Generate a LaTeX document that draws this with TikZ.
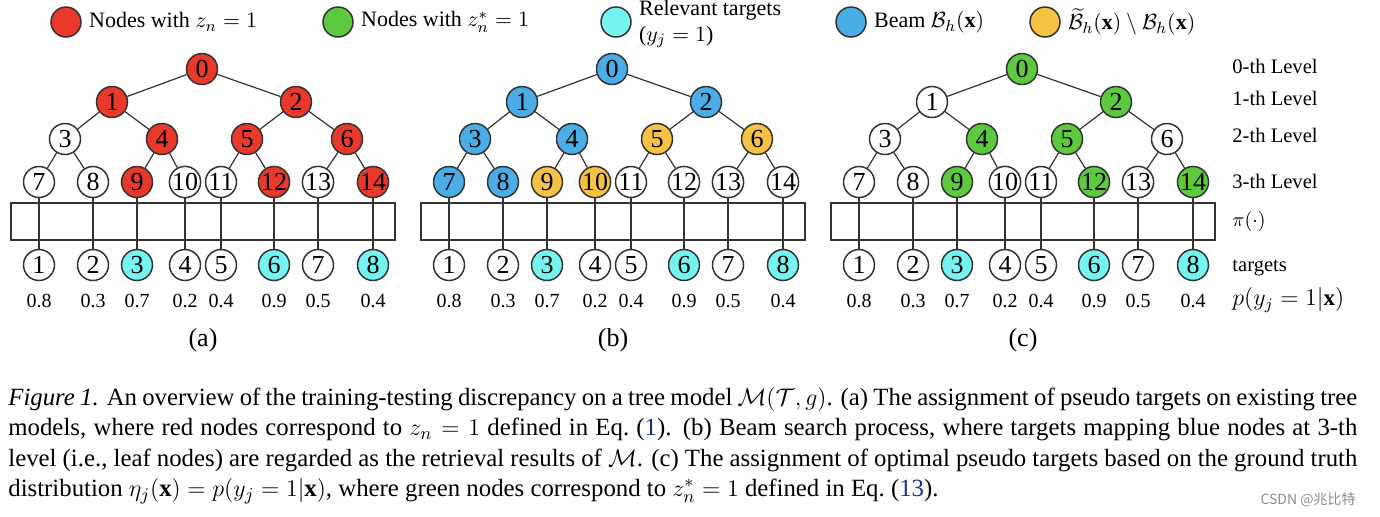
\documentclass[tikz,border=0pt]{standalone}
\usepackage{fontspec}
\setmainfont{Liberation Serif}
\newfontfamily\cjk{Noto Sans CJK SC}
\usepackage{amsmath}
\usetikzlibrary{positioning}
\definecolor{zRed}{HTML}{E8392B}
\definecolor{zGreen}{HTML}{5CC93F}
\definecolor{zCyan}{HTML}{74F3F1}
\definecolor{zBlue}{HTML}{4AADE6}
\definecolor{zGold}{HTML}{F5C243}
\definecolor{rim}{HTML}{333333}
\definecolor{eqref}{HTML}{1A2F8C}

% tree node: index/x/y (pixels of the original)
\newcommand\treenodes{0/202/69, 1/112/102, 2/296/102, 3/65/139, 4/162/139,
  5/247/139, 6/347/139, 7/39/182, 8/93/182, 9/137/182, 10/185/182,
  11/221/182, 12/274/182, 13/318/182, 14/373/182}
% target: index/x/fill/probability
\newcommand\targets{1/39/white/0.8, 2/93/white/0.3, 3/137/zCyan/0.7,
  4/185/white/0.2, 5/221/white/0.4, 6/274/zCyan/0.9, 7/318/white/0.5,
  8/373/zCyan/0.4}
\newcommand\fillsa{{"zRed","zRed","zRed","white","zRed","zRed","zRed",
  "white","white","zRed","white","white","zRed","white","zRed"}}
\newcommand\fillsb{{"zBlue","zBlue","zBlue","zBlue","zBlue","zGold","zGold",
  "zBlue","zBlue","zGold","zGold","white","white","white","white"}}
\newcommand\fillsc{{"zGreen","white","zGreen","white","zGreen","zGreen","white",
  "white","white","zGreen","white","white","zGreen","white","zGreen"}}

\begin{document}
\begin{tikzpicture}[x=0.5pt, y=-0.5pt,
  tn/.style={circle, draw=rim, line width=0.75pt, minimum size=15.5pt,
             inner sep=0pt, font=\fontsize{13}{13}\selectfont},
  edge/.style={draw=rim, line width=0.6pt},
  key/.style={circle, draw=rim, line width=0.75pt, minimum size=15pt, inner sep=0pt},
  keytxt/.style={inner sep=3.5pt, align=left, font=\fontsize{11}{13}\selectfont},
  perm/.style={draw=rim, line width=0.75pt, minimum width=192pt,
               minimum height=18.5pt, inner sep=0pt},
  val/.style={inner sep=0pt, font=\fontsize{10}{12}\selectfont},
  lvl/.style={anchor=west, inner sep=0pt, font=\fontsize{10.3}{12}\selectfont}]

\useasboundingbox (0,0) rectangle (1380,516);

% legend
\node[key, fill=zRed] (kRed) at (66,22) {};
\node[keytxt, right=0pt of kRed] (kRedT) {Nodes with $z_n = 1$};
\node[key, fill=zGreen] (kGreen) at (338,22) {};
\node[keytxt, right=0pt of kGreen] (kGreenT) {Nodes with $z^*_n = 1$};
\node[key, fill=zCyan] (kCyan) at (616,22) {};
\node[keytxt, right=0pt of kCyan, yshift=-1pt] (kCyanT) {Relevant targets\\($y_j = 1$)};
\node[key, fill=zBlue] (kBlue) at (851,22) {};
\node[keytxt, right=0pt of kBlue] (kBlueT) {Beam $\mathcal{B}_h(\mathbf{x})$};
\node[key, fill=zGold] (kGold) at (1045,22) {};
\node[keytxt, right=0pt of kGold] (kGoldT)
  {$\widetilde{\mathcal{B}}_h(\mathbf{x}) \setminus \mathcal{B}_h(\mathbf{x})$};

% the three panels
\foreach \p/\dx/\fl in {a/0/\fillsa, b/410/\fillsb, c/820/\fillsc} {
  \begin{scope}[shift={(\dx,0)}]
    \foreach \i/\x/\y in \treenodes {
      \pgfmathsetmacro\f{\fl[\i]}
      \node[tn, fill=\f] (\p\i) at (\x,\y) {\i};
    }
    \foreach \i in {1,...,14} {
      \pgfmathtruncatemacro\up{(\i-1)/2}
      \draw[edge] (\p\up) -- (\p\i);
    }
    \node[perm] (\p pi) at (203,221.5) {};
    \foreach \j/\x/\f/\v in \targets {
      \pgfmathtruncatemacro\leaf{\j+6}
      \node[tn, fill=\f] (\p t\j) at (\x,265) {\j};
      \node[val] (\p v\j) at (\x,301) {\v};
      \draw[edge] (\p\leaf) -- (\p t\j);
    }
    \node[font=\fontsize{13}{13}\selectfont] (\p lab) at (203,340) {(\p)};
  \end{scope}
}

% level labels on the right
\node[lvl] (lvl0) at (1232,66)  {0-th Level};
\node[lvl] (lvl1) at (1232,98)  {1-th Level};
\node[lvl] (lvl2) at (1232,135) {2-th Level};
\node[lvl] (lvl3) at (1232,181) {3-th Level};
\node[lvl] (lpi)  at (1232,221) {$\pi(\cdot)$};
\node[lvl] (ltgt) at (1232,268) {targets};
\node[lvl, font=\fontsize{11.5}{12}\selectfont] (lprob) at (1232,300)
  {$p(y_j = 1|\mathbf{x})$};

% caption
\node[anchor=north west, inner sep=0pt, text width=674.5pt, align=justify,
      font=\fontsize{12.4}{15.2}\selectfont] (cap) at (8,387)
  {\textit{Figure 1.} An overview of the training-testing discrepancy on a tree
   model $\mathcal{M}(\mathcal{T}, g)$. (a) The assignment of pseudo targets on
   existing tree\linebreak
   models, where red nodes correspond to $z_n = 1$ defined in
   Eq.~(\textcolor{eqref}{1}). (b) Beam search process, where targets mapping
   blue nodes at 3-th\linebreak
   level (i.e., leaf nodes) are regarded as the retrieval results of
   $\mathcal{M}$. (c) The assignment of optimal pseudo targets based on the
   ground truth\linebreak
   distribution $\eta_j(\mathbf{x}) = p(y_j = 1|\mathbf{x})$, where green nodes
   correspond to $z^*_n = 1$ defined in Eq.~(\textcolor{eqref}{13}).};
\node[anchor=east, inner sep=0pt, text=black!45, font=\cjk\fontsize{7}{8}\selectfont]
  (mark) at (1356,500) {CSDN @兆比特};
\end{tikzpicture}
\end{document}
